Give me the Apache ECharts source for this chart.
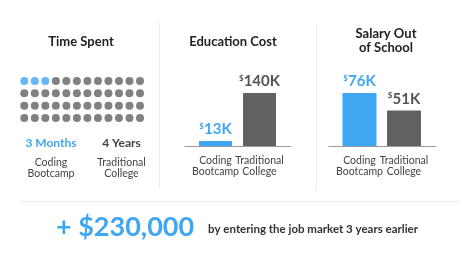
<!DOCTYPE html>
<html><head><meta charset="utf-8">
<script src="https://cdn.jsdelivr.net/npm/echarts@6/dist/echarts.min.js"></script>
<style>html,body{margin:0;padding:0;background:#fff}#c{width:474px;height:262px}</style>
</head><body><div id="c"></div>
<script>
// ---- data ----
const categories = ['Coding\nBootcamp', 'Traditional\nCollege'];
const timeMonths = [3, 48];            // months spent (one dot per month)
const timeLabels = ['3 Months', '4 Years'];
const costValues = [13, 140];          // $K
const costLabels = ['13K', '140K'];
const salaryValues = [76, 51];         // $K
const salaryLabels = ['76K', '51K'];
const dotsPerRow = 12;
const panelTitles = ['Time Spent', 'Education Cost', 'Salary Out\nof School'];
const bigNumber = '+ $230,000';
const bigNumberText = 'by entering the job market 3 years earlier';

const BLUE = '#3fa6f2', GRAY = '#626262', FONT = 'Lato, "Open Sans", sans-serif';

// dots: first timeMonths[0] blue, total timeMonths[1]
const dotData = [];
for (let i = 0; i < timeMonths[1]; i++) {
  dotData.push({
    value: [i % dotsPerRow, Math.floor(i / dotsPerRow)],
    itemStyle: { color: i < timeMonths[0] ? BLUE : GRAY }
  });
}

function valueLabel(txt, color) {
  return {
    show: true, position: 'top', distance: 4,
    formatter: '{s|$}{v|' + txt + '}',
    rich: {
      s: { fontSize: 8, fontWeight: 'bold', color: color, fontFamily: FONT, padding: [0, 0, 7, 0] },
      v: { fontSize: 15, fontWeight: 'bold', color: color, fontFamily: FONT }
    }
  };
}

const catLabel = {
  margin: 9, color: '#444', fontSize: 10.5, lineHeight: 11, fontFamily: FONT, interval: 0
};
const titleStyle = { fontSize: 13, fontWeight: 'bold', color: '#222', fontFamily: FONT, lineHeight: 14 };

const chart = echarts.init(document.getElementById('c'), null, { renderer: 'canvas' });
chart.setOption({
  animation: false,
  backgroundColor: '#fff',
  title: [
    { text: panelTitles[0], left: 81, top: 35, padding: 0, textAlign: 'center', textStyle: titleStyle },
    { text: panelTitles[1], left: 233, top: 35, padding: 0, textAlign: 'center', textStyle: titleStyle },
    { text: panelTitles[2], left: 386, top: 27, padding: 0, textAlign: 'center', textStyle: titleStyle },
    { text: '{a|' + bigNumber + '}{b|' + bigNumberText + '}', left: 'center', top: 214, padding: 0,
      textStyle: { rich: {
        a: { fontSize: 27, fontWeight: 'bold', color: BLUE, fontFamily: FONT, padding: [0, 14, 0, 0] },
        b: { fontSize: 11.5, color: '#333', fontFamily: FONT, padding: [4, 0, 0, 0] }
      } } }
  ],
  graphic: [
    { type: 'line', shape: { x1: 159.5, y1: 22, x2: 159.5, y2: 188 }, style: { stroke: '#ececec', lineWidth: 1 } },
    { type: 'line', shape: { x1: 316.5, y1: 24, x2: 316.5, y2: 190 }, style: { stroke: '#ececec', lineWidth: 1 } },
    { type: 'line', shape: { x1: 20, y1: 201.5, x2: 459, y2: 201.5 }, style: { stroke: '#ececec', lineWidth: 1 } }
  ],
  grid: [
    { left: 24.3, width: 115.7, top: 81, height: 37 },      // 0 dots
    { left: 15.75, width: 141, top: 120, height: 5 },        // 1 time labels
    { left: 193.5, width: 88, top: 93, height: 53 },         // 2 cost bars
    { left: 185, width: 106, top: 145, height: 1 },          // 3 cost baseline
    { left: 337.25, width: 89, top: 93, height: 53 },        // 4 salary bars
    { left: 329, width: 107, top: 145, height: 1 }           // 5 salary baseline
  ],
  xAxis: [
    { gridIndex: 0, type: 'value', min: 0, max: dotsPerRow - 1, show: false },
    { gridIndex: 1, type: 'category', data: categories,
      axisLine: { show: false }, axisTick: { show: false },
      axisLabel: { margin: 4, interval: 0,
        formatter: function (v, i) {
          return '{' + (i === 0 ? 'vb' : 'vg') + '|' + timeLabels[i] + '}\n{c|' + v.split('\n')[0] + '}\n{c|' + v.split('\n')[1] + '}';
        },
        rich: {
          vb: { fontSize: 12, fontWeight: 'bold', color: BLUE, fontFamily: FONT, lineHeight: 28 },
          vg: { fontSize: 12, fontWeight: 'bold', color: '#444', fontFamily: FONT, lineHeight: 28 },
          c: { fontSize: 10.5, color: '#444', fontFamily: FONT, lineHeight: 11 }
        } } },
    { gridIndex: 2, type: 'category', data: categories,
      axisLine: { show: false }, axisTick: { show: false }, axisLabel: catLabel },
    { gridIndex: 3, type: 'category', data: [''], axisTick: { show: false }, axisLabel: { show: false },
      axisLine: { show: true, lineStyle: { color: '#9a9a9a', width: 1 } } },
    { gridIndex: 4, type: 'category', data: categories,
      axisLine: { show: false }, axisTick: { show: false }, axisLabel: catLabel },
    { gridIndex: 5, type: 'category', data: [''], axisTick: { show: false }, axisLabel: { show: false },
      axisLine: { show: true, lineStyle: { color: '#9a9a9a', width: 1 } } }
  ],
  yAxis: [
    { gridIndex: 0, type: 'value', min: 0, max: 3, inverse: true, show: false },
    { gridIndex: 1, type: 'value', show: false },
    { gridIndex: 2, type: 'value', min: 0, max: 140, show: false },
    { gridIndex: 3, type: 'value', show: false },
    { gridIndex: 4, type: 'value', min: 0, max: 76, show: false },
    { gridIndex: 5, type: 'value', show: false }
  ],
  series: [
    { type: 'scatter', xAxisIndex: 0, yAxisIndex: 0, symbolSize: 8, data: dotData },
    { type: 'bar', xAxisIndex: 2, yAxisIndex: 2, barWidth: 33,
      data: costValues.map(function (v, i) {
        const c = i === 0 ? BLUE : GRAY;
        return { value: v, itemStyle: { color: c }, label: valueLabel(costLabels[i], i === 0 ? BLUE : '#555') };
      }) },
    { type: 'bar', xAxisIndex: 4, yAxisIndex: 4, barWidth: 34,
      data: salaryValues.map(function (v, i) {
        const c = i === 0 ? BLUE : GRAY;
        return { value: v, itemStyle: { color: c }, label: valueLabel(salaryLabels[i], i === 0 ? BLUE : '#555') };
      }) }
  ]
});
</script></body></html>
